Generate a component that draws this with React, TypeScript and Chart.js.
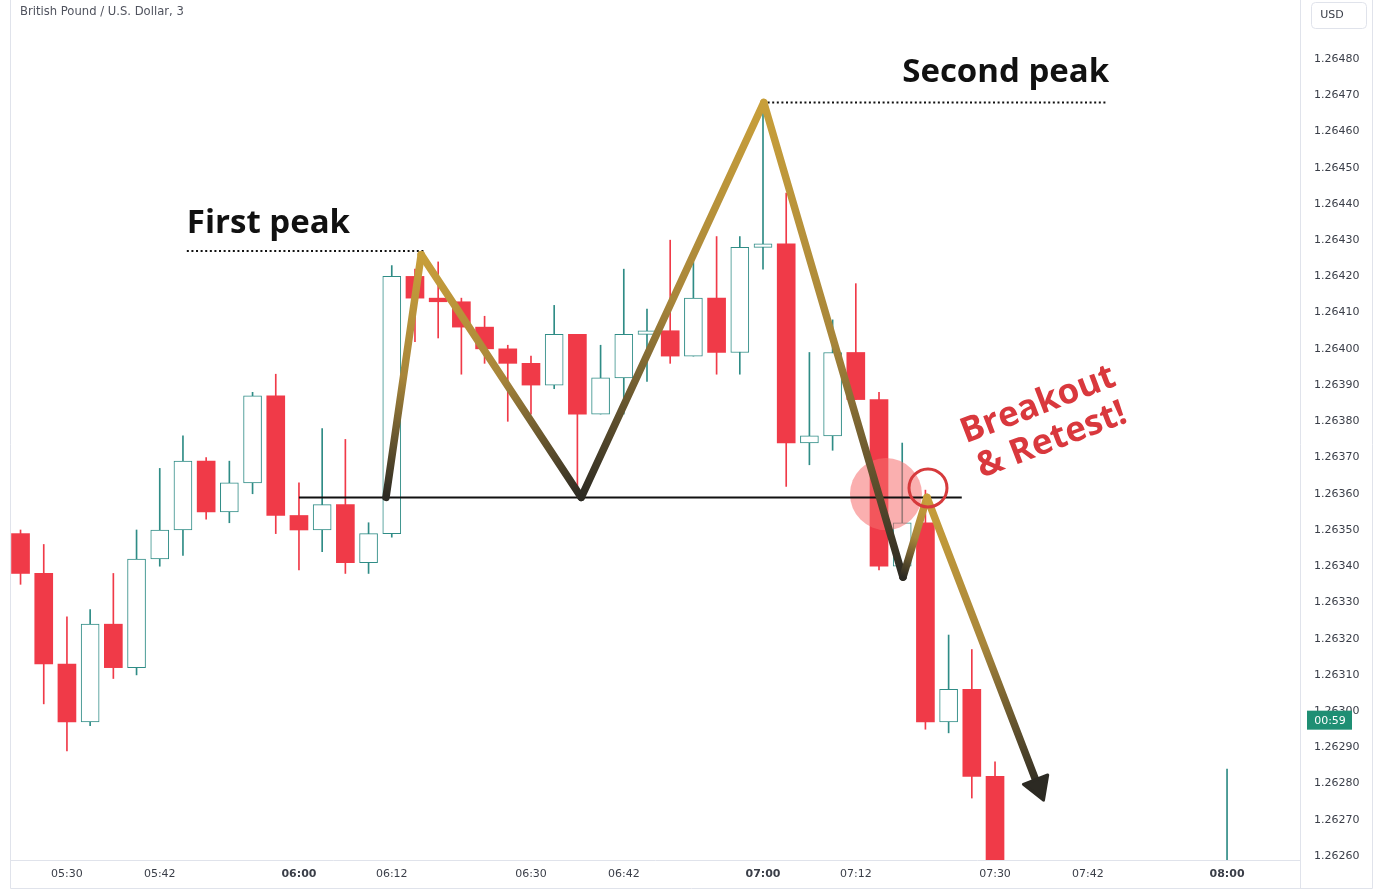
import { useEffect, useRef } from 'react';
import { Chart, registerables } from 'chart.js';

Chart.register(...registerables);

// ---------- data ----------
const candleTimes = [
  '05:24', '05:27', '05:30', '05:33', '05:36', '05:39', '05:42', '05:45', '05:48', '05:51',
  '05:54', '05:57', '06:00', '06:03', '06:06', '06:09', '06:12', '06:15', '06:18', '06:21',
  '06:24', '06:27', '06:30', '06:33', '06:36', '06:39', '06:42', '06:45', '06:48', '06:51',
  '06:54', '06:57', '07:00', '07:03', '07:06', '07:09', '07:12', '07:15', '07:18', '07:21',
  '07:24', '07:27', '07:30', '08:00',
];
const openPrices = [
  1.26349, 1.26338, 1.26313, 1.26297, 1.26324, 1.26312, 1.26342, 1.26350, 1.26369, 1.26355,
  1.26363, 1.26387, 1.26354, 1.26350, 1.26357, 1.26341, 1.26349, 1.26420, 1.26414, 1.26413,
  1.26406, 1.26400, 1.26396, 1.26390, 1.26404, 1.26382, 1.26392, 1.26404, 1.26405, 1.26398,
  1.26414, 1.26399, 1.26428, 1.26429, 1.26374, 1.26376, 1.26399, 1.26386, 1.26340, 1.26352,
  1.26297, 1.26306, 1.26282, 1.26256,
];
const highPrices = [
  1.26350, 1.26346, 1.26326, 1.26328, 1.26338, 1.26350, 1.26367, 1.26376, 1.26370, 1.26369,
  1.26388, 1.26393, 1.26363, 1.26378, 1.26375, 1.26352, 1.26423, 1.26422, 1.26424, 1.26414,
  1.26409, 1.26401, 1.26398, 1.26412, 1.26404, 1.26401, 1.26422, 1.26411, 1.26430, 1.26424,
  1.26431, 1.26431, 1.26468, 1.26443, 1.26399, 1.26408, 1.26418, 1.26388, 1.26374, 1.26361,
  1.26321, 1.26317, 1.26286, 1.26284,
];
const lowPrices = [
  1.26335, 1.26302, 1.26289, 1.26296, 1.26309, 1.26310, 1.26340, 1.26343, 1.26353, 1.26352,
  1.26360, 1.26349, 1.26339, 1.26344, 1.26338, 1.26338, 1.26348, 1.26402, 1.26403, 1.26393,
  1.26396, 1.26380, 1.26382, 1.26389, 1.26359, 1.26382, 1.26382, 1.26391, 1.26396, 1.26398,
  1.26393, 1.26393, 1.26422, 1.26362, 1.26368, 1.26372, 1.26386, 1.26339, 1.26338, 1.26295,
  1.26294, 1.26276, 1.26258, 1.26250,
];
const closePrices = [
  1.26338, 1.26313, 1.26297, 1.26324, 1.26312, 1.26342, 1.26350, 1.26369, 1.26355, 1.26363,
  1.26387, 1.26354, 1.26350, 1.26357, 1.26341, 1.26349, 1.26420, 1.26414, 1.26413, 1.26406,
  1.26400, 1.26396, 1.26390, 1.26404, 1.26382, 1.26392, 1.26404, 1.26405, 1.26398, 1.26414,
  1.26399, 1.26428, 1.26429, 1.26374, 1.26376, 1.26399, 1.26386, 1.26340, 1.26352, 1.26297,
  1.26306, 1.26282, 1.26259, 1.26257,
];

const timeTickLabels = ['05:30', '05:42', '06:00', '06:12', '06:30', '06:42', '07:00', '07:12', '07:30', '07:42', '08:00'];
const boldTimeTicks = ['06:00', '07:00', '08:00'];
const priceTickLabels = [
  '1.26260', '1.26270', '1.26280', '1.26290', '1.26300', '1.26310', '1.26320', '1.26330',
  '1.26340', '1.26350', '1.26360', '1.26370', '1.26380', '1.26390', '1.26400', '1.26410',
  '1.26420', '1.26430', '1.26440', '1.26450', '1.26460', '1.26470', '1.26480',
];
const timeRange = ['05:22:46', '08:09:26'];
const priceRange = [1.262589, 1.264963];

// pattern (double top) path
const patternTimes = ['06:11:15', '06:15:48', '06:36:30', '07:00:06', '07:18:06', '07:21:12', '07:35:48'];
const patternPrices = [1.26359, 1.26426, 1.26359, 1.26468, 1.26337, 1.26359, 1.26278];
const necklineTimes = ['06:00', '07:25:42'];
const necklinePrice = 1.26359;
const firstPeakTimes = ['05:45:30', '06:16:18'];
const firstPeakPrice = 1.26427;
const secondPeakTimes = ['07:00', '07:44:36'];
const secondPeakPrice = 1.26468;
const firstPeakLabel = { text: 'First peak', time: '05:45:30', price: 1.26432 };
const secondPeakLabel = { text: 'Second peak', time: '07:18:00', price: 1.264737 };
const breakoutLabel = { lines: ['Breakout', '& Retest!'], time: '07:35:34', price: 1.263845 };
const breakoutZone = { time: '07:15:54', price: 1.263599 };
const retestRing = { time: '07:21:20', price: 1.263616 };
const currentPrice = 1.262975;
const currentCountdown = '00:59';
const titleText = 'British Pound / U.S. Dollar, 3';
const currencyText = 'USD';

// ---------- helpers ----------
const toMin = (s: string) => {
  const [h, m, sec] = s.split(':').map(Number);
  return h * 60 + m + (sec || 0) / 60;
};

const UP = '#2f8c86';
const DOWN = '#f03a48';
const GOLD = '#c89f3a';
const MID = '#a8863a';
const DARK = '#2c2a23';
const FRAME = '#e0e3eb';
const AXIS_FONT = "'DejaVu Sans', sans-serif";
const isUp = (i: number) => closePrices[i] >= openPrices[i];

const annotationPlugin = {
  id: 'annotations',
  afterDatasetsDraw(chart: any) {
    const { ctx, chartArea, scales } = chart;
    const xs = scales.x;
    const ys = scales.y;
    const px = (t: string) => xs.getPixelForValue(toMin(t));
    const py = (p: number) => ys.getPixelForValue(p);
    ctx.save();
    ctx.beginPath();
    ctx.rect(chartArea.left, chartArea.top, chartArea.right - chartArea.left, chartArea.bottom - chartArea.top);
    ctx.clip();

    // dotted peak lines
    ctx.strokeStyle = '#111';
    ctx.lineWidth = 2;
    ctx.setLineDash([2, 2.6]);
    [[firstPeakTimes, firstPeakPrice], [secondPeakTimes, secondPeakPrice]].forEach(([ts, p]: any) => {
      ctx.beginPath();
      ctx.moveTo(px(ts[0]), py(p));
      ctx.lineTo(px(ts[1]), py(p));
      ctx.stroke();
    });
    ctx.setLineDash([]);

    // breakout zone (pink)
    ctx.fillStyle = 'rgba(246, 110, 110, 0.55)';
    ctx.beginPath();
    ctx.arc(px(breakoutZone.time), py(breakoutZone.price), 36, 0, Math.PI * 2);
    ctx.fill();

    // neckline
    ctx.strokeStyle = '#111';
    ctx.lineWidth = 2;
    ctx.beginPath();
    ctx.moveTo(px(necklineTimes[0]), py(necklinePrice));
    ctx.lineTo(px(necklineTimes[1]), py(necklinePrice));
    ctx.stroke();

    // pattern path with gradients
    const pts = patternTimes.map((t, i) => ({ x: px(t), y: py(patternPrices[i]) }));
    ctx.lineWidth = 7.5;
    ctx.lineCap = 'round';
    ctx.lineJoin = 'round';
    for (let i = 0; i < pts.length - 1; i++) {
      const a = pts[i];
      const b = pts[i + 1];
      const g = ctx.createLinearGradient(a.x, a.y, b.x, b.y);
      const aHigh = a.y < b.y;
      if (aHigh) {
        g.addColorStop(0, GOLD);
        g.addColorStop(0.5, MID);
        g.addColorStop(1, DARK);
      } else {
        g.addColorStop(0, DARK);
        g.addColorStop(0.5, MID);
        g.addColorStop(1, GOLD);
      }
      ctx.strokeStyle = g;
      ctx.beginPath();
      ctx.moveTo(a.x, a.y);
      ctx.lineTo(b.x, b.y);
      ctx.stroke();
    }
    // arrowhead
    const n = pts.length;
    const tip = pts[n - 1];
    const prev = pts[n - 2];
    const dx = tip.x - prev.x;
    const dy = tip.y - prev.y;
    const len = Math.hypot(dx, dy);
    const ux = dx / len;
    const uy = dy / len;
    const tx = tip.x + ux * 10;
    const ty = tip.y + uy * 10;
    const bx = tip.x - ux * 12;
    const by = tip.y - uy * 12;
    ctx.fillStyle = DARK;
    ctx.strokeStyle = DARK;
    ctx.lineWidth = 3;
    ctx.beginPath();
    ctx.moveTo(tx, ty);
    ctx.lineTo(bx - uy * 13, by + ux * 13);
    ctx.lineTo(bx + uy * 13, by - ux * 13);
    ctx.closePath();
    ctx.fill();
    ctx.stroke();

    // retest ring
    ctx.strokeStyle = '#d63a3c';
    ctx.lineWidth = 3;
    ctx.beginPath();
    ctx.arc(px(retestRing.time), py(retestRing.price), 19, 0, Math.PI * 2);
    ctx.stroke();

    // labels
    ctx.fillStyle = '#111';
    ctx.font = "bold 33px 'Open Sans', sans-serif";
    ctx.textAlign = 'left';
    ctx.textBaseline = 'alphabetic';
    ctx.fillText(firstPeakLabel.text, px(firstPeakLabel.time), py(firstPeakLabel.price));
    ctx.fillText(secondPeakLabel.text, px(secondPeakLabel.time), py(secondPeakLabel.price));

    ctx.save();
    ctx.translate(px(breakoutLabel.time), py(breakoutLabel.price));
    ctx.rotate((-21 * Math.PI) / 180);
    ctx.fillStyle = '#d9383d';
    ctx.font = "bold 35px 'Open Sans', sans-serif";
    ctx.textAlign = 'center';
    ctx.textBaseline = 'middle';
    ctx.fillText(breakoutLabel.lines[0], 0, 0);
    ctx.fillText(breakoutLabel.lines[1], 0, 38);
    ctx.restore();

    ctx.restore();
  },
  afterDraw(chart: any) {
    const { ctx, chartArea, scales } = chart;
    const ys = scales.y;
    ctx.save();
    // frame
    ctx.strokeStyle = FRAME;
    ctx.lineWidth = 1;
    ctx.beginPath();
    ctx.moveTo(chartArea.left - 0.5, 0);
    ctx.lineTo(chartArea.left - 0.5, 888.5);
    ctx.lineTo(1372.5, 888.5);
    ctx.lineTo(1372.5, 0);
    ctx.moveTo(chartArea.right + 0.5, 0);
    ctx.lineTo(chartArea.right + 0.5, 888.5);
    ctx.moveTo(chartArea.left, chartArea.bottom + 0.5);
    ctx.lineTo(chartArea.right, chartArea.bottom + 0.5);
    ctx.stroke();

    // title
    ctx.fillStyle = '#50535e';
    ctx.font = `11.6px ${AXIS_FONT}`;
    ctx.textAlign = 'left';
    ctx.textBaseline = 'middle';
    ctx.fillText(titleText, 20, 12);

    // currency box
    ctx.strokeStyle = FRAME;
    ctx.beginPath();
    ctx.roundRect(1311.5, 2.5, 55, 26, 4);
    ctx.stroke();
    ctx.fillStyle = '#3a3e48';
    ctx.font = `11px ${AXIS_FONT}`;
    ctx.textAlign = 'center';
    ctx.fillText(currencyText, 1332, 15);

    // countdown tag
    const ty = ys.getPixelForValue(currentPrice);
    ctx.fillStyle = '#1f8f74';
    ctx.fillRect(1307, ty - 9.5, 45, 19);
    ctx.fillStyle = '#ffffff';
    ctx.textAlign = 'center';
    ctx.fillText(currentCountdown, 1330, ty + 0.5);
    ctx.restore();
  },
};

export default function App() {
  const canvasRef = useRef<HTMLCanvasElement | null>(null);

  useEffect(() => {
    document.body.style.margin = '0';
    const canvas = canvasRef.current;
    if (!canvas) return;

    const wickData = candleTimes.map((t, i) => ({ x: toMin(t), y: [lowPrices[i], highPrices[i]] }));
    const bodyData = candleTimes.map((t, i) => ({ x: toMin(t), y: [openPrices[i], closePrices[i]] }));

    const chart = new Chart(canvas, {
      type: 'bar',
      data: {
        datasets: [
          {
            label: 'wicks',
            data: wickData as any,
            backgroundColor: candleTimes.map((_, i) => (isUp(i) ? UP : DOWN)),
            borderWidth: 0,
            barThickness: 1,
            grouped: false,
            order: 2,
          } as any,
          {
            label: 'bodies',
            data: bodyData as any,
            backgroundColor: candleTimes.map((_, i) => (isUp(i) ? '#ffffff' : DOWN)),
            borderColor: candleTimes.map((_, i) => (isUp(i) ? UP : DOWN)),
            borderWidth: candleTimes.map((_, i) => (isUp(i) ? 1 : 0)),
            borderSkipped: false,
            barThickness: 18,
            grouped: false,
            order: 1,
          } as any,
        ],
      },
      options: {
        animation: false,
        responsive: false,
        maintainAspectRatio: false,
        devicePixelRatio: 1,
        layout: { padding: { left: 11, top: 0, right: 0, bottom: 0 } },
        plugins: { legend: { display: false }, tooltip: { enabled: false }, title: { display: false } },
        scales: {
          x: {
            type: 'linear',
            offset: false,
            min: toMin(timeRange[0]),
            max: toMin(timeRange[1]),
            grid: { display: false, drawTicks: false },
            border: { display: false },
            afterBuildTicks: (scale: any) => {
              scale.ticks = timeTickLabels.map((t) => ({ value: toMin(t) }));
            },
            afterFit: (scale: any) => {
              scale.height = 34;
              scale.paddingLeft = 0;
              scale.paddingRight = 0;
            },
            ticks: {
              autoSkip: false,
              maxRotation: 0,
              padding: 8,
              color: '#3a3e48',
              font: (ctx: any) => ({
                family: AXIS_FONT,
                size: 11,
                weight: boldTimeTicks.includes(timeTickLabels[ctx.index]) ? 'bold' : 'normal',
              }),
              callback: (_v: any, i: number) => timeTickLabels[i],
            },
          },
          y: {
            type: 'linear',
            position: 'right',
            min: priceRange[0],
            max: priceRange[1],
            grid: { display: false, drawTicks: false },
            border: { display: false },
            afterBuildTicks: (scale: any) => {
              scale.ticks = priceTickLabels.map((p) => ({ value: parseFloat(p) }));
            },
            afterFit: (scale: any) => {
              scale.width = 82;
              scale.paddingTop = 0;
              scale.paddingBottom = 0;
            },
            ticks: {
              padding: 14,
              color: '#3a3e48',
              font: { family: AXIS_FONT, size: 11 },
              callback: (_v: any, i: number) => priceTickLabels[i],
            },
          },
        },
      } as any,
      plugins: [annotationPlugin],
    });

    return () => chart.destroy();
  }, []);

  return (
    <div style={{ position: 'relative', width: 1382, height: 894, background: '#ffffff' }}>
      <canvas ref={canvasRef} width={1382} height={894} style={{ display: 'block' }} />
    </div>
  );
}
